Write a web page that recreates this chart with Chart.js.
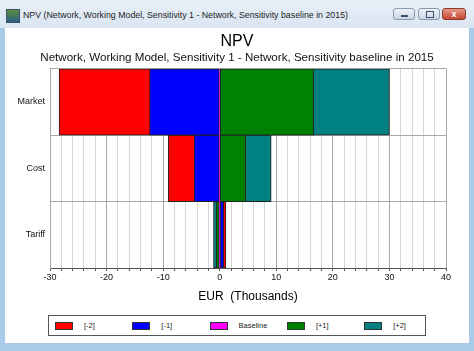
<!DOCTYPE html>
<html>
<head>
<meta charset="utf-8">
<script src="https://cdn.jsdelivr.net/npm/chart.js@4"></script>
<style>
  html, body { margin: 0; padding: 0; }
  body { width: 474px; height: 351px; position: relative; overflow: hidden; background: #a9cbe9; font-family: "Liberation Sans", Arial, sans-serif; }
  #titlebar { position: absolute; left: 0; top: 0; width: 474px; height: 28px; background: linear-gradient(#e9f0f8, #d9e5f2); }
  #titlebar .icon { position: absolute; left: 6px; top: 9px; width: 14px; height: 14px; background: linear-gradient(#5a8f3c, #2f5e86); border: 1px solid #39506a; box-sizing: border-box; }
  #titlebar .text { position: absolute; left: 23px; top: 10px; font-size: 8.8px; color: #1e1e1e; white-space: nowrap; }
  .btn { position: absolute; top: 8px; height: 12px; border: 1px solid #8a9bb0; border-radius: 3px; box-sizing: border-box; background: linear-gradient(#eef3f9, #c9d6e4); }
  #bmin { left: 393px; width: 22px; }
  #bmax { left: 418px; width: 22px; }
  #bclose { left: 442px; width: 24px; background: linear-gradient(#e59a8a, #c64530); border-color: #8e3a2d; color: #fff; font-size: 9px; font-weight: bold; text-align: center; line-height: 10px; }
  #bmin::after { content: ""; position: absolute; left: 7px; top: 6px; width: 7px; height: 2px; background: #40506a; }
  #bmax::after { content: ""; position: absolute; left: 7px; top: 2px; width: 6px; height: 5px; border: 1px solid #40506a; }
  #client { position: absolute; left: 5px; top: 28px; width: 464px; height: 315px; background: #fff; }
  #legend { position: absolute; left: 48px; top: 315px; width: 378px; height: 21px; border: 1px solid #555; box-sizing: border-box; background: #fff; }
  .item { position: absolute; top: 6px; font-size: 7.5px; color: #222; }
  .item i { position: absolute; left: 0; top: 0; width: 18px; height: 8px; border: 1px solid #333; box-sizing: border-box; }
  .item span { position: absolute; left: 29px; top: -1px; white-space: nowrap; }
</style>
</head>
<body>
<div id="titlebar">
  <div class="icon"></div>
  <div class="text">NPV (Network, Working Model, Sensitivity 1 - Network, Sensitivity baseline in 2015)</div>
  <div class="btn" id="bmin"></div>
  <div class="btn" id="bmax"></div>
  <div class="btn" id="bclose">x</div>
</div>
<div id="client">
  <canvas id="npvChart"></canvas>
</div>
<div id="legend"></div>
<script>
// categories and sensitivity results (EUR thousands)
const categories = ['Market', 'Cost', 'Tariff'];
const minus2 = [-28.4, -9.1, 1.1];
const minus1 = [-12.4, -4.5, 0.7];
const baseline = [0, 0, 0];
const plus1 = [16.6, 4.6, -0.6];
const plus2 = [30.0, 9.1, -1.1];
const xTickLabels = [-30, -20, -10, 0, 10, 20, 30, 40];

const seriesNames = ['[-2]', '[-1]', 'Baseline', '[+1]', '[+2]'];
const seriesColors = ['#ff0000', '#0000ff', '#ff00ff', '#008000', '#008080'];
// bigger order = drawn first (behind)
const seriesOrder = [3, 1, 0, 1, 3];
const seriesData = [minus2, minus1, baseline, plus1, plus2];

const datasets = seriesData.map((d, i) => ({
    label: seriesNames[i],
    data: d,
    backgroundColor: seriesColors[i],
    borderColor: '#222',
    borderWidth: i === 2 ? 0 : 1,
    borderSkipped: false,
    order: seriesOrder[i],
    barPercentage: 1,
    categoryPercentage: 1,
    grouped: false
}));

new Chart(document.getElementById('npvChart'), {
    type: 'bar',
    data: { labels: categories, datasets: datasets },
    options: {
        indexAxis: 'y',
        responsive: true,
        maintainAspectRatio: false,
        animation: false,
        layout: { padding: { left: 0, right: 0, top: 0, bottom: 35 } },
        plugins: {
            legend: { display: false },
            tooltip: { enabled: false },
            title: {
                display: true,
                text: 'NPV',
                color: '#000',
                font: { family: 'Liberation Sans', size: 16, weight: 'normal', lineHeight: 1.1 },
                padding: { top: 5, bottom: 0 }
            },
            subtitle: {
                display: true,
                text: 'Network, Working Model, Sensitivity 1 - Network, Sensitivity baseline in 2015',
                color: '#111',
                font: { family: 'Liberation Sans', size: 11.6, lineHeight: 1.05 },
                padding: { top: 1, bottom: 5 }
            }
        },
        scales: {
            x: {
                min: -30,
                max: 40,
                afterFit: (scale) => { scale.height = 40; },
                ticks: {
                    stepSize: 2,
                    autoSkip: false,
                    maxRotation: 0,
                    padding: 1,
                    color: '#111',
                    font: { family: 'Liberation Sans', size: 9 },
                    callback: (v) => xTickLabels.includes(v) ? String(v) : ''
                },
                grid: {
                    color: (ctx) => (ctx.tick && ctx.tick.value % 10 === 0) ? '#a8a8a8' : '#d6d6d6',
                    tickColor: '#555',
                    tickLength: 3
                },
                border: { color: '#555' },
                title: {
                    display: true,
                    text: 'EUR  (Thousands)',
                    color: '#000',
                    font: { family: 'Liberation Sans', size: 12 },
                    padding: { top: 0, bottom: 4 }
                }
            },
            y: {
                afterFit: (scale) => { scale.width = 45; },
                ticks: {
                    padding: 5,
                    color: '#111',
                    font: { family: 'Liberation Sans', size: 9 }
                },
                grid: { color: '#a8a8a8', drawTicks: false },
                border: { color: '#a8a8a8' }
            },
            // empty right margin so titles stay centred on the window
            yRight: {
                type: 'category',
                position: 'right',
                afterFit: (scale) => { scale.width = 23; },
                ticks: { display: false },
                grid: { display: false },
                border: { display: false }
            }
        }
    }
});

// legend box like the original window
const legend = document.getElementById('legend');
seriesNames.forEach((name, i) => {
    const item = document.createElement('div');
    item.className = 'item';
    item.style.left = (6 + i * 77.3) + 'px';
    item.innerHTML = '<i style="background:' + seriesColors[i] + '"></i><span>' + name + '</span>';
    legend.appendChild(item);
});
</script>
</body>
</html>
